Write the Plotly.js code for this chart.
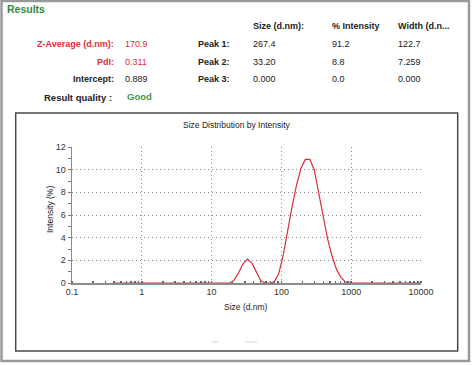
<!DOCTYPE html>
<html>
<head>
<meta charset="utf-8">
<script src="https://cdn.plot.ly/plotly-3.0.1.min.js"></script>
<style>
  html, body { margin: 0; padding: 0; background: #ffffff; }
  #chart { width: 474px; height: 365px; }
</style>
</head>
<body>
<div id="chart"></div>
<script>
// ---- Data ----
const sizes = [0.4, 0.4632, 0.5365, 0.6213, 0.7195, 0.8332, 0.9649, 1.117, 1.294, 1.499,
  1.736, 2.010, 2.328, 2.696, 3.122, 3.615, 4.187, 4.849, 5.615, 6.503,
  7.531, 8.721, 10.10, 11.70, 13.54, 15.69, 18.17, 21.04, 24.36, 28.21,
  32.67, 37.84, 43.82, 50.75, 58.77, 68.06, 78.82, 91.28, 105.7, 122.4,
  141.8, 164.2, 190.1, 220.2, 255.0, 295.3, 342.0, 396.1, 458.7, 531.2,
  615.1, 712.4, 825.0, 955.4, 1106, 1281, 1484, 1718, 1990, 2305,
  2669, 3091, 3580, 4145, 4801, 5560, 6439, 7456, 8635, 10000];
const intensity = [0, 0, 0, 0, 0, 0, 0, 0, 0, 0,
  0, 0, 0, 0, 0, 0, 0, 0, 0, 0,
  0, 0, 0, 0, 0, 0, 0, 0.25, 0.9, 1.7,
  2.1, 1.75, 0.95, 0.2, 0, 0, 0.1, 0.8, 2.4, 4.6,
  6.7, 8.6, 10.1, 10.9, 10.9, 10.0, 8.0, 6.0, 3.9, 2.4,
  1.2, 0.5, 0.1, 0, 0, 0, 0, 0, 0, 0,
  0, 0, 0, 0, 0, 0, 0, 0, 0, 0];
const xTickVals = [0.1, 1, 10, 100, 1000, 10000];
const xTickText = ["0.1", "1", "10", "100", "1000", "10000"];
const yTickVals = [0, 2, 4, 6, 8, 10, 12];

const summaryLabels = ["Z-Average (d.nm):", "PdI:", "Intercept:"];
const summaryValues = ["170.9", "0.311", "0.889"];
const peakNames = ["Peak 1:", "Peak 2:", "Peak 3:"];
const peakSize = ["267.4", "33.20", "0.000"];
const peakIntensity = ["91.2", "8.8", "0.0"];
const peakWidth = ["122.7", "7.259", "0.000"];
const columnHeaders = ["Size (d.nm):", "% Intensity", "Width (d.n..."];

// ---- Layout geometry (pixels) ----
const W = 474, H = 365;
const M = {l: 72, r: 53, t: 147, b: 82};
const PW = W - M.l - M.r, PH = H - M.t - M.b;
const px = x => (x - M.l) / PW;
const py = y => 1 - (y - M.t) / PH;
const FONT = "Liberation Sans, Arial, sans-serif";

const ann = [];
function txt(text, x, y, opts) {
  opts = opts || {};
  ann.push({
    text: text, xref: "paper", yref: "paper", x: px(x), y: py(y),
    xanchor: opts.anchor || "left", yanchor: "middle", showarrow: false,
    textangle: opts.angle || 0,
    font: {family: FONT, size: opts.size || 9, color: opts.color || "#222"}
  });
}

const RED = "#d8303a", GREEN = "#3a9a4f";
txt("<b>Results</b>", 5, 9, {size: 10.5, color: "#2f8a3e"});
const rowY = [44, 61.5, 79];
const labelColors = [RED, RED, "#222"];
const valueColors = [RED, RED, "#222"];
for (let i = 0; i < 3; i++) {
  txt("<b>" + summaryLabels[i] + "</b>", 116, rowY[i], {anchor: "right", color: labelColors[i]});
  txt(summaryValues[i], 123, rowY[i], {color: valueColors[i]});
  txt("<b>" + peakNames[i] + "</b>", 232, rowY[i], {anchor: "right"});
  txt(peakSize[i], 251, rowY[i]);
  txt(peakIntensity[i], 330, rowY[i]);
  txt(peakWidth[i], 396, rowY[i]);
}
txt("<b>Result quality :</b>", 114, 97.5, {anchor: "right", size: 9.5});
txt("<b>Good</b>", 125, 96.5, {color: GREEN, size: 9.5});
const headerX = [251, 330, 396];
for (let i = 0; i < 3; i++) txt("<b>" + columnHeaders[i] + "</b>", headerX[i], 26, {});

txt("Size Distribution by Intensity", 237, 125, {anchor: "center", size: 8.5});
txt("Size (d.nm)", 246, 307, {anchor: "center", size: 8.5});
txt("Intensity (%)", 50, 210, {anchor: "center", size: 8.5, angle: -90});

const shapes = [
  // outer card border
  {type: "rect", xref: "paper", yref: "paper", x0: px(1.5), x1: px(469), y0: py(1), y1: py(361),
   line: {color: "#9a9a9a", width: 2.5}, layer: "below"},
  // inner chart panel border
  {type: "rect", xref: "paper", yref: "paper", x0: px(15.7), x1: px(457.7), y0: py(113), y1: py(351),
   line: {color: "#4a4a4a", width: 1.5}, layer: "below"},
  // faint legend marks
  {type: "line", xref: "paper", yref: "paper", x0: px(212), x1: px(218), y0: py(342), y1: py(342),
   line: {color: "#e2e2e2", width: 1.5}},
  {type: "line", xref: "paper", yref: "paper", x0: px(245), x1: px(257), y0: py(342), y1: py(342),
   line: {color: "#e2e2e2", width: 1.5}}
];

const trace = {
  x: sizes, y: intensity, type: "scatter", mode: "lines",
  line: {color: RED, width: 1.2}, hoverinfo: "skip", showlegend: false
};

const GRIDDASH = "1px,3px";
const layout = {
  width: W, height: H,
  margin: M,
  paper_bgcolor: "#ffffff", plot_bgcolor: "rgba(0,0,0,0)",
  font: {family: FONT, size: 9, color: "#333"},
  showlegend: false,
  xaxis: {
    type: "log", range: [-1, 4], tickvals: xTickVals, ticktext: xTickText,
    showgrid: true, gridcolor: "#8a8a8a", griddash: GRIDDASH, gridwidth: 1,
    showline: true, linecolor: "#8a8a8a", linewidth: 1.5,
    ticks: "", ticklen: 0,
    minor: {dtick: "D1", ticks: "inside", ticklen: 2, tickwidth: 1.5, tickcolor: "#666", showgrid: false},
    tickfont: {family: FONT, size: 9, color: "#333"}, zeroline: false, fixedrange: true
  },
  yaxis: {
    range: [0, 12], tickvals: yTickVals,
    showgrid: true, gridcolor: "#8a8a8a", griddash: GRIDDASH, gridwidth: 1,
    showline: true, linecolor: "#8a8a8a", linewidth: 1.5,
    ticks: "outside", ticklen: 3, tickcolor: "#777",
    minor: {dtick: 1, ticks: "outside", ticklen: 3, tickcolor: "#777", showgrid: false},
    tickfont: {family: FONT, size: 9, color: "#333"}, zeroline: false, fixedrange: true
  },
  annotations: ann,
  shapes: shapes
};

Plotly.newPlot("chart", [trace], layout, {displayModeBar: false, staticPlot: true});
</script>
</body>
</html>
